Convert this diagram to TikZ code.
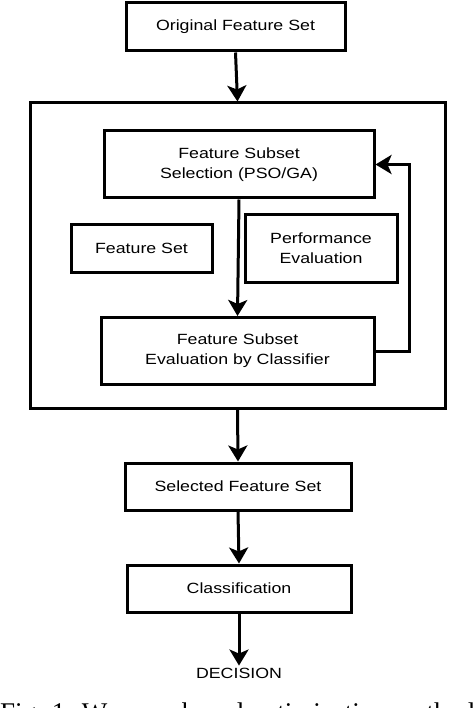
\documentclass[tikz,border=0pt]{standalone}
\usepackage{fontspec}
\setmainfont[FakeStretch=1.2]{Liberation Sans}
\newfontfamily\capfont{Liberation Serif}
\usetikzlibrary{arrows.meta}
\tikzset{
  box/.style={draw, line width=3pt, align=center, inner sep=0pt,
    font=\fontsize{14.8}{20}\selectfont},
  flow/.style={line width=3pt, -{Stealth[length=16pt,width=19pt,inset=4pt]}},
}
\begin{document}
\begin{tikzpicture}[x=1pt,y=-1pt]
  \clip (0,0) rectangle (474,708);
  \node[box, minimum width=219pt, minimum height=48pt] (orig) at (235.5,27) {Original Feature Set};
  \node[box, minimum width=415pt, minimum height=305pt] (wrap) at (237.5,255.5) {};
  \node[box, minimum width=270pt, minimum height=67pt] (fss) at (239,164.5) {Feature Subset\\Selection (PSO/GA)};
  \node[box, minimum width=141pt, minimum height=47pt] (fset) at (141.5,248.5) {Feature Set};
  \node[box, minimum width=152pt, minimum height=67pt] (perf) at (321,248.5) {Performance\\Evaluation};
  \node[box, minimum width=273pt, minimum height=67pt] (eval) at (237.5,351) {Feature Subset\\Evaluation by Classifier};
  \node[box, minimum width=226pt, minimum height=47pt] (sel) at (238,486.5) {Selected Feature Set};
  \node[box, minimum width=224pt, minimum height=47pt] (cls) at (239,588.5) {Classification};
  \node[font=\fontsize{14.8}{20}\selectfont, inner sep=2pt] (dec) at (239,673) {DECISION};
  \node[anchor=base west, inner sep=0pt, font=\capfont\fontsize{27}{30}\selectfont] (cap) at (0,721)
    {Fig. 1: Wrapper based optimization method};
  % connectors
  \draw[flow] (orig.south) -- (wrap.north);
  \draw[flow] (fss.south) -- (eval.north);
  \draw[flow] (eval.east) -- ++(34,0) |- (fss.east);
  \draw[flow] (wrap.south) -- (sel.north);
  \draw[flow] (sel.south) -- (cls.north);
  \draw[flow] (cls.south) -- (dec.north);
\end{tikzpicture}
\end{document}
